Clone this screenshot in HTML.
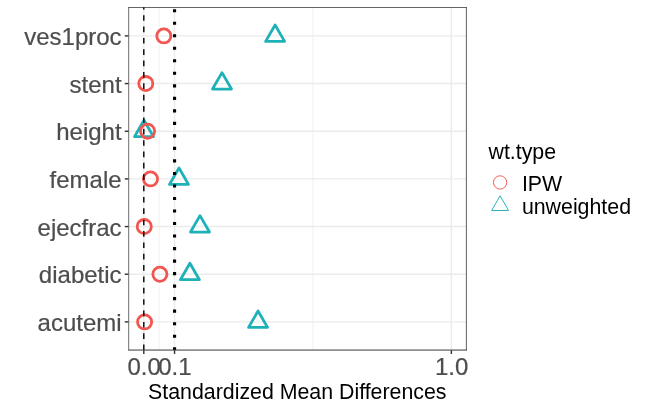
<!DOCTYPE html>
<html><head><meta charset="utf-8"><title>Standardized Mean Differences</title>
<style>html,body{margin:0;padding:0;background:#fff}svg{display:block}</style></head>
<body>
<svg width="646" height="410" viewBox="0 0 646 410">
<rect width="646" height="410" fill="#fff"/>
<clipPath id="p"><rect x="128.42" y="7.1" width="338.33000000000004" height="343.2"/></clipPath>
<g clip-path="url(#p)">
<line x1="159.18" x2="159.18" y1="7.1" y2="350.3" stroke="#EBEBEB" stroke-width="0.71"/>
<line x1="312.96" x2="312.96" y1="7.1" y2="350.3" stroke="#EBEBEB" stroke-width="0.71"/>
<line x1="143.80" x2="143.80" y1="7.1" y2="350.3" stroke="#EBEBEB" stroke-width="1.42"/>
<line x1="174.56" x2="174.56" y1="7.1" y2="350.3" stroke="#EBEBEB" stroke-width="1.42"/>
<line x1="451.37" x2="451.37" y1="7.1" y2="350.3" stroke="#EBEBEB" stroke-width="1.42"/>
<line x1="128.42" x2="466.75" y1="35.90" y2="35.90" stroke="#EBEBEB" stroke-width="1.42"/>
<line x1="128.42" x2="466.75" y1="83.57" y2="83.57" stroke="#EBEBEB" stroke-width="1.42"/>
<line x1="128.42" x2="466.75" y1="131.23" y2="131.23" stroke="#EBEBEB" stroke-width="1.42"/>
<line x1="128.42" x2="466.75" y1="178.90" y2="178.90" stroke="#EBEBEB" stroke-width="1.42"/>
<line x1="128.42" x2="466.75" y1="226.57" y2="226.57" stroke="#EBEBEB" stroke-width="1.42"/>
<line x1="128.42" x2="466.75" y1="274.24" y2="274.24" stroke="#EBEBEB" stroke-width="1.42"/>
<line x1="128.42" x2="466.75" y1="321.90" y2="321.90" stroke="#EBEBEB" stroke-width="1.42"/>
<path d="M275.10,24.94L284.59,41.38L265.61,41.38Z" fill="none" stroke="#1EB1B7" stroke-width="2.8" stroke-linejoin="round"/>
<path d="M222.00,72.60L231.49,89.05L212.51,89.05Z" fill="none" stroke="#1EB1B7" stroke-width="2.8" stroke-linejoin="round"/>
<path d="M144.00,120.27L153.49,136.72L134.51,136.72Z" fill="none" stroke="#1EB1B7" stroke-width="2.8" stroke-linejoin="round"/>
<path d="M179.00,167.94L188.49,184.38L169.51,184.38Z" fill="none" stroke="#1EB1B7" stroke-width="2.8" stroke-linejoin="round"/>
<path d="M200.00,215.60L209.49,232.05L190.51,232.05Z" fill="none" stroke="#1EB1B7" stroke-width="2.8" stroke-linejoin="round"/>
<path d="M189.90,263.27L199.39,279.72L180.41,279.72Z" fill="none" stroke="#1EB1B7" stroke-width="2.8" stroke-linejoin="round"/>
<path d="M258.05,310.94L267.54,327.38L248.56,327.38Z" fill="none" stroke="#1EB1B7" stroke-width="2.8" stroke-linejoin="round"/>
<circle cx="163.83" cy="35.90" r="7.05" fill="none" stroke="#F15650" stroke-width="2.8"/>
<circle cx="145.80" cy="83.57" r="7.05" fill="none" stroke="#F15650" stroke-width="2.8"/>
<circle cx="147.56" cy="131.23" r="7.05" fill="none" stroke="#F15650" stroke-width="2.8"/>
<circle cx="150.50" cy="178.90" r="7.05" fill="none" stroke="#F15650" stroke-width="2.8"/>
<circle cx="144.25" cy="226.57" r="7.05" fill="none" stroke="#F15650" stroke-width="2.8"/>
<circle cx="159.90" cy="274.24" r="7.05" fill="none" stroke="#F15650" stroke-width="2.8"/>
<circle cx="144.60" cy="321.90" r="7.05" fill="none" stroke="#F15650" stroke-width="2.8"/>
<line x1="143.80" x2="143.80" y1="350.3" y2="7.1" stroke="#000" stroke-width="1.42" stroke-dasharray="5.68 5.68"/>
<line x1="174.56" x2="174.56" y1="350.3" y2="7.1" stroke="#000" stroke-width="3.13" stroke-dasharray="3.13 9.39"/>
</g>
<g fill="#333">
<rect x="128.42" y="7.0" width="338.24" height="0.75"/>
<rect x="128.42" y="7.0" width="0.71" height="343.54"/>
<rect x="465.9" y="7.0" width="0.78" height="343.54"/>
<rect x="128.42" y="349.58" width="338.24" height="0.96"/>
</g>
<line x1="124.75" x2="128.42" y1="35.90" y2="35.90" stroke="#333" stroke-width="1.42"/>
<line x1="124.75" x2="128.42" y1="83.57" y2="83.57" stroke="#333" stroke-width="1.42"/>
<line x1="124.75" x2="128.42" y1="131.23" y2="131.23" stroke="#333" stroke-width="1.42"/>
<line x1="124.75" x2="128.42" y1="178.90" y2="178.90" stroke="#333" stroke-width="1.42"/>
<line x1="124.75" x2="128.42" y1="226.57" y2="226.57" stroke="#333" stroke-width="1.42"/>
<line x1="124.75" x2="128.42" y1="274.24" y2="274.24" stroke="#333" stroke-width="1.42"/>
<line x1="124.75" x2="128.42" y1="321.90" y2="321.90" stroke="#333" stroke-width="1.42"/>
<line x1="143.80" x2="143.80" y1="350.30" y2="353.97" stroke="#333" stroke-width="1.42"/>
<line x1="174.56" x2="174.56" y1="350.30" y2="353.97" stroke="#333" stroke-width="1.42"/>
<line x1="451.37" x2="451.37" y1="350.30" y2="353.97" stroke="#333" stroke-width="1.42"/>
<text x="121.6" y="44.85" text-anchor="end" font-family="Liberation Sans, Arial, Helvetica, sans-serif" font-size="24" fill="#4D4D4D" stroke="#4D4D4D" stroke-width="0.2">ves1proc</text>
<text x="121.6" y="92.52" text-anchor="end" font-family="Liberation Sans, Arial, Helvetica, sans-serif" font-size="24" fill="#4D4D4D" stroke="#4D4D4D" stroke-width="0.2">stent</text>
<text x="121.6" y="140.18" text-anchor="end" font-family="Liberation Sans, Arial, Helvetica, sans-serif" font-size="24" fill="#4D4D4D" stroke="#4D4D4D" stroke-width="0.2">height</text>
<text x="121.6" y="187.85" text-anchor="end" font-family="Liberation Sans, Arial, Helvetica, sans-serif" font-size="24" fill="#4D4D4D" stroke="#4D4D4D" stroke-width="0.2">female</text>
<text x="121.6" y="235.52" text-anchor="end" font-family="Liberation Sans, Arial, Helvetica, sans-serif" font-size="24" fill="#4D4D4D" stroke="#4D4D4D" stroke-width="0.2">ejecfrac</text>
<text x="121.6" y="283.19" text-anchor="end" font-family="Liberation Sans, Arial, Helvetica, sans-serif" font-size="24" fill="#4D4D4D" stroke="#4D4D4D" stroke-width="0.2">diabetic</text>
<text x="121.6" y="330.85" text-anchor="end" font-family="Liberation Sans, Arial, Helvetica, sans-serif" font-size="24" fill="#4D4D4D" stroke="#4D4D4D" stroke-width="0.2">acutemi</text>
<text x="144.10" y="375.2" text-anchor="middle" font-family="Liberation Sans, Arial, Helvetica, sans-serif" font-size="24" fill="#4D4D4D" stroke="#4D4D4D" stroke-width="0.2">0.0</text>
<text x="174.86" y="375.2" text-anchor="middle" font-family="Liberation Sans, Arial, Helvetica, sans-serif" font-size="24" fill="#4D4D4D" stroke="#4D4D4D" stroke-width="0.2">0.1</text>
<text x="451.67" y="375.2" text-anchor="middle" font-family="Liberation Sans, Arial, Helvetica, sans-serif" font-size="24" fill="#4D4D4D" stroke="#4D4D4D" stroke-width="0.2">1.0</text>
<text x="297.3" y="399.3" text-anchor="middle" font-family="Liberation Sans, Arial, Helvetica, sans-serif" font-size="21.33" fill="#000">Standardized Mean Differences</text>
<text x="488.5" y="158.9" font-family="Liberation Sans, Arial, Helvetica, sans-serif" font-size="21.33" fill="#000">wt.type</text>
<circle cx="500.1" cy="182.45" r="6.65" fill="none" stroke="#F15650" stroke-width="0.95"/>
<path d="M500.10,195.80L508.58,210.50L491.62,210.50Z" fill="none" stroke="#1EB1B7" stroke-width="0.95" stroke-linejoin="round"/>
<text x="521.9" y="191.0" font-family="Liberation Sans, Arial, Helvetica, sans-serif" font-size="21.33" fill="#000">IPW</text>
<text x="521.9" y="214.0" font-family="Liberation Sans, Arial, Helvetica, sans-serif" font-size="21.33" fill="#000">unweighted</text>
</svg>
</body></html>
